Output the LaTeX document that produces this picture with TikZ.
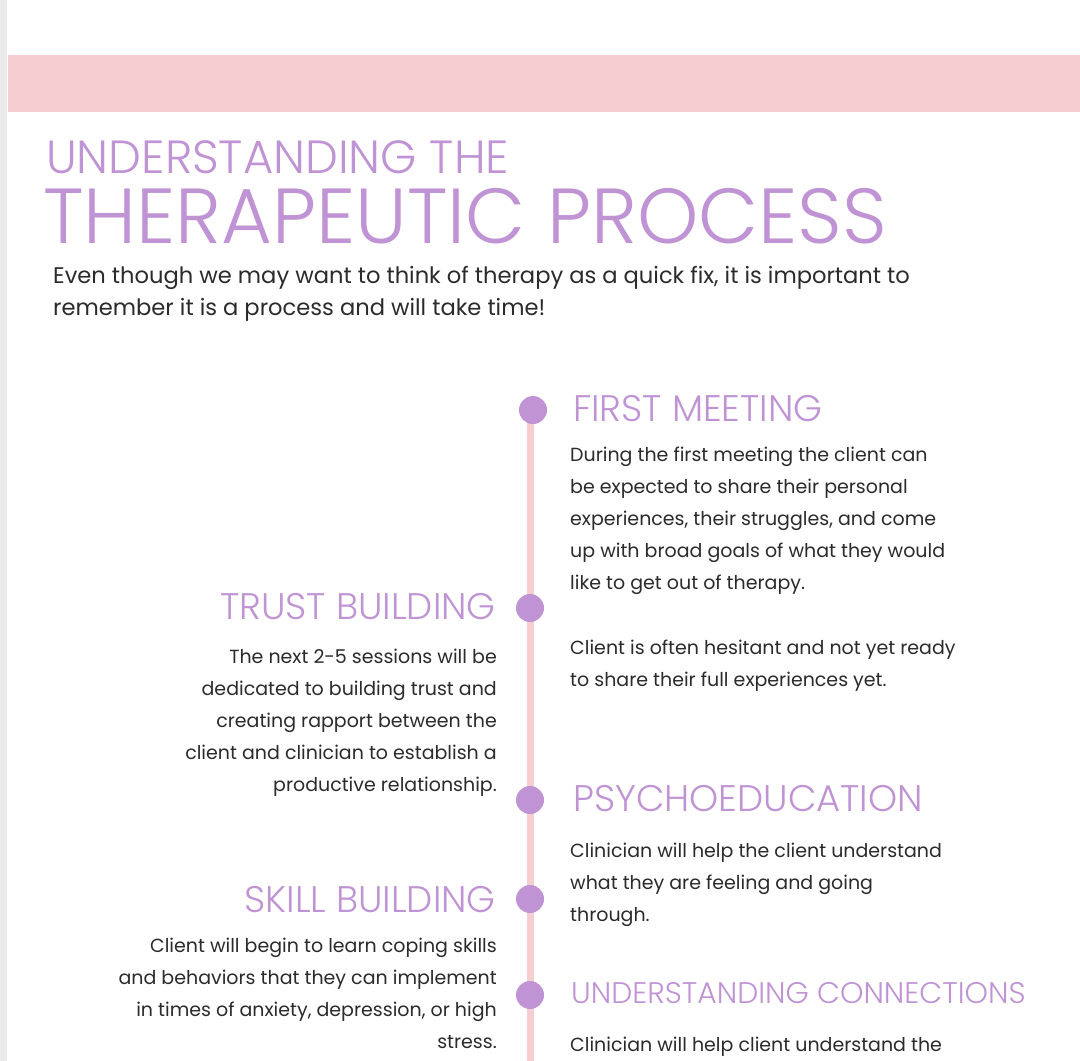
\documentclass[tikz,border=0pt]{standalone}
\usepackage{fontspec}
\setmainfont{Poppins}
\newfontfamily\headfont{Poppins Light}
\definecolor{purp}{HTML}{BF93D4}
\definecolor{pinkband}{HTML}{F6CDD0}
\definecolor{txt}{HTML}{2B2B2B}
\definecolor{edge}{HTML}{EBEBEB}
\begin{document}
\begin{tikzpicture}[x=1pt,y=-1pt,
  head/.style={font=\headfont\fontsize{37}{39}\selectfont, text=purp, inner sep=0pt},
  para/.style={font=\fontsize{19}{32}\selectfont, text=txt, inner sep=0pt},
  dot/.style={circle, fill=purp, minimum size=28pt, inner sep=0pt}]
\useasboundingbox (0,0) rectangle (1080,1061);
\fill[white] (0,0) rectangle (1080,1061);
\fill[edge] (0,0) rectangle (7,1061);
\fill[pinkband] (8,55) rectangle (1080,112);
\node[head, anchor=base west, font=\headfont\fontsize{46.5}{48}\selectfont] (t1) at (46,173) {UNDERSTANDING THE};
\node[head, anchor=base west, font=\headfont\fontsize{78}{80}\selectfont] (t2) at (43,243) {THERAPEUTIC PROCESS};
\node[para, anchor=north west, align=left, font=\fontsize{22.6}{32}\selectfont] (intro) at (53,266) {Even though we may want to think of therapy as a quick fix, it is important to\\remember it is a process and will take time!};
\coordinate (top) at (530,410);
\coordinate (bot) at (530,1061);
\draw[pinkband, line width=7pt] (top) -- (bot);
\node[dot] (d1) at (533,410) {};
\node[dot] (d2) at (530,608) {};
\node[dot] (d3) at (530,800) {};
\node[dot] (d4) at (530,899) {};
\node[dot] (d5) at (530,995) {};
\node[head, anchor=west] (h1) at (573,409) {FIRST MEETING};
\node[para, anchor=north west, align=left] (p1) at (570,447) {During the first meeting the client can\\be expected to share their personal\\experiences, their struggles, and come\\up with broad goals of what they would\\like to get out of therapy.};
\node[para, anchor=north west, align=left] (p1b) at (570,640) {Client is often hesitant and not yet ready\\to share their full experiences yet.};
\node[head, anchor=east] (h2) at (496,607) {TRUST BUILDING};
\node[para, anchor=north east, align=right] (p2) at (497,649) {The next 2-5 sessions will be\\dedicated to building trust and\\creating rapport between the\\client and clinician to establish a\\productive relationship.};
\node[head, anchor=west] (h3) at (573,799) {PSYCHOEDUCATION};
\node[para, anchor=north west, align=left] (p3) at (570,843) {Clinician will help the client understand\\what they are feeling and going\\through.};
\node[head, anchor=east] (h4) at (496,900) {SKILL BUILDING};
\node[para, anchor=north east, align=right] (p4) at (497,938) {Client will begin to learn coping skills\\and behaviors that they can implement\\in times of anxiety, depression, or high\\stress.};
\node[head, anchor=west, font=\headfont\fontsize{29.8}{31}\selectfont] (h5) at (571,993) {UNDERSTANDING CONNECTIONS};
\node[para, anchor=north west, align=left] (p5) at (570,1037) {Clinician will help client understand the};
\end{tikzpicture}
\end{document}
